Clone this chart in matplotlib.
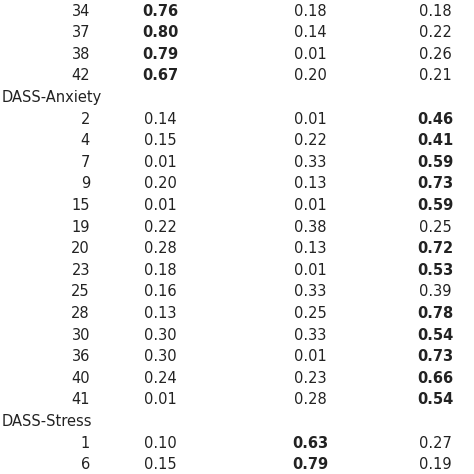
import matplotlib.pyplot as plt

# table rows: label, three loadings, index of bold column (-1 none)
labels = ['34', '37', '38', '42', 'DASS-Anxiety', '2', '4', '7', '9', '15', '19', '20',
          '23', '25', '28', '30', '36', '40', '41', 'DASS-Stress', '1', '6']
col1 = ['0.76', '0.80', '0.79', '0.67', '', '0.14', '0.15', '0.01', '0.20', '0.01', '0.22',
        '0.28', '0.18', '0.16', '0.13', '0.30', '0.30', '0.24', '0.01', '', '0.10', '0.15']
col2 = ['0.18', '0.14', '0.01', '0.20', '', '0.01', '0.22', '0.33', '0.13', '0.01', '0.38',
        '0.13', '0.01', '0.33', '0.25', '0.33', '0.01', '0.23', '0.28', '', '0.63', '0.79']
col3 = ['0.18', '0.22', '0.26', '0.21', '', '0.46', '0.41', '0.59', '0.73', '0.59', '0.25',
        '0.72', '0.53', '0.39', '0.78', '0.54', '0.73', '0.66', '0.54', '', '0.27', '0.19']
bold = [0, 0, 0, 0, -1, 2, 2, 2, 2, 2, -1, 2, 2, -1, 2, 2, 2, 2, 2, -1, 1, 1]

fig = plt.figure(figsize=(4.74, 4.74), dpi=100)
ax = fig.add_axes([0, 0, 1, 1])
ax.set_xlim(0, 474)
ax.set_ylim(474, 0)
ax.axis('off')

col_x = [160, 310, 435]
color = '#222222'
fs = 10.5
for i, lab in enumerate(labels):
    y = 11 + i * 21.6
    if lab.startswith('DASS'):
        ax.text(2, y, lab, ha='left', va='center', fontsize=fs, color=color)
        continue
    ax.text(90, y, lab, ha='right', va='center', fontsize=fs, color=color)
    for j, vals in enumerate([col1, col2, col3]):
        ax.text(col_x[j], y, vals[i], ha='center', va='center', fontsize=fs, color=color,
                fontweight='bold' if bold[i] == j else 'normal')

fig.savefig('out.png', dpi=100)
